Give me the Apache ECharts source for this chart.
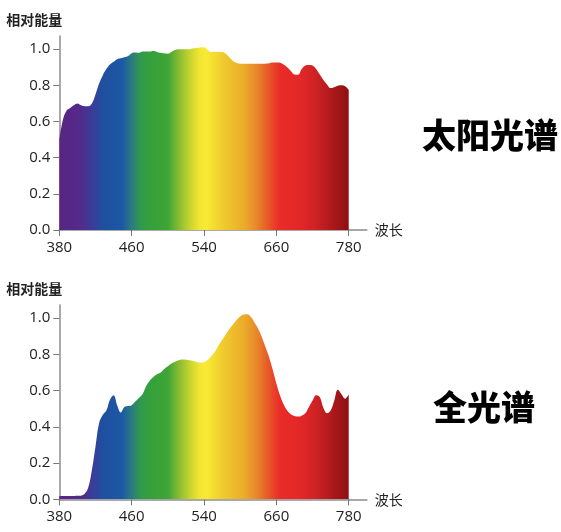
<!DOCTYPE html>
<html>
<head>
<meta charset="utf-8">
<script src="https://cdn.jsdelivr.net/npm/echarts@6/dist/echarts.min.js"></script>
<style>
html,body{margin:0;padding:0;background:#ffffff;}
#chart{width:561px;height:532px;}
</style>
</head>
<body>
<div id="chart"></div>
<script>
// Wavelength categories (nm): 4 nm steps up to 540, 6 nm steps after (axis is evenly spaced per tick label)
const wavelengths = [
  380,384,388,392,396,400,404,408,412,416,420,424,428,432,436,440,444,448,452,456,
  460,464,468,472,476,480,484,488,492,496,500,504,508,512,516,520,524,528,532,536,540,
  546,552,558,564,570,576,582,588,594,600,606,612,618,624,630,636,642,648,654,660,
  666,672,678,684,690,696,702,708,714,720,726,732,738,744,750,756,762,768,774,780
];
// empty axis run-out beyond 780 nm
const axisRunout = [786,792,798,804,810];
const tickLabels = ['380','460','540','660','780'];
const yTicks = [0,0.2,0.4,0.6,0.8,1.0];

// 太阳光谱 relative energy
const sunSpectrum = [
  0.50,0.61,0.66,0.675,0.69,0.70,0.69,0.685,0.685,0.70,
  0.75,0.81,0.855,0.89,0.915,0.93,0.945,0.95,0.955,0.962,
  0.978,0.982,0.98,0.987,0.987,0.987,0.99,0.985,0.98,0.977,
  0.975,0.985,0.995,1.0,1.0,1.0,1.0,1.005,1.007,1.01,1.011,
  0.995,0.985,0.985,0.985,0.985,0.975,0.955,0.935,0.925,0.92,
  0.92,0.92,0.92,0.92,0.92,0.92,0.92,0.922,0.926,0.926,
  0.925,0.915,0.90,0.88,0.86,0.858,0.89,0.91,0.913,0.91,
  0.89,0.86,0.83,0.805,0.785,0.79,0.798,0.80,0.795,0.775
];
// 全光谱 relative energy
const fullSpectrum = [
  0.018,0.018,0.018,0.018,0.018,0.019,0.02,0.03,0.065,0.16,
  0.29,0.42,0.465,0.49,0.55,0.575,0.52,0.48,0.51,0.515,
  0.52,0.54,0.56,0.58,0.625,0.655,0.675,0.69,0.70,0.72,
  0.735,0.75,0.76,0.768,0.772,0.771,0.768,0.764,0.758,0.755,0.757,
  0.77,0.79,0.815,0.85,0.88,0.91,0.94,0.965,0.99,1.01,
  1.02,1.022,1.005,0.975,0.94,0.895,0.84,0.785,0.715,0.64,
  0.575,0.525,0.49,0.47,0.46,0.457,0.462,0.475,0.51,0.545,
  0.575,0.565,0.505,0.475,0.49,0.545,0.605,0.58,0.555,0.58
];

const categories = wavelengths.concat(axisRunout).map(String);
const spectrumStops = [
  [0.000,'#5a2482'],[0.072,'#532a8a'],[0.113,'#3b3c98'],[0.148,'#1f4f9f'],
  [0.217,'#1c58a6'],[0.248,'#2a7a82'],[0.279,'#2f9850'],[0.306,'#34a03c'],
  [0.375,'#3ea536'],[0.417,'#8fbe32'],[0.452,'#c8d530'],[0.486,'#f3e633'],
  [0.507,'#f8ea34'],[0.573,'#efc82d'],[0.641,'#ebab2a'],[0.686,'#e7832a'],
  [0.720,'#e75a27'],[0.762,'#e92c28'],[0.832,'#e32727'],[0.884,'#d02224'],
  [0.936,'#b11a1c'],[1.000,'#8e0f11']
];
const gradient = () => new echarts.graphic.LinearGradient(0,0,1,0,
  spectrumStops.map(s => ({offset:s[0], color:s[1]})));

const font = "'Open Sans','Noto Sans CJK SC',sans-serif";
const cjk = "'Noto Sans CJK SC','Open Sans',sans-serif";
const showTick = (idx, val) => tickLabels.includes(val);

function xAxisFor(gi){
  return {
    type:'category', gridIndex:gi, data:categories, boundaryGap:false,
    name:'波长', nameLocation:'end', nameGap:8,
    nameTextStyle:{fontFamily:cjk, fontSize:14, color:'#222', verticalAlign:'middle'},
    axisLine:{show:true, lineStyle:{color:'#8c8c8c', width:1.5}},
    axisTick:{show:true, interval:showTick, length:6, lineStyle:{color:'#777'}},
    axisLabel:{interval:showTick, margin:10, fontFamily:font, fontSize:15, color:'#222'},
    splitLine:{show:false}
  };
}
function yAxisFor(gi){
  return {
    type:'value', gridIndex:gi, min:0, max:1.073,
    name:'相对能量', nameLocation:'end', nameGap:9,
    nameTextStyle:{fontFamily:cjk, fontSize:14, fontWeight:'bold', color:'#222', align:'right', padding:[0,-3,0,0]},
    axisLine:{show:true, lineStyle:{color:'#8c8c8c', width:1.5}},
    axisTick:{show:true, length:6, customValues:yTicks, lineStyle:{color:'#777'}},
    axisLabel:{customValues:yTicks, margin:9, fontFamily:font, fontSize:15, color:'#222',
      formatter:v => v.toFixed(1)},
    splitLine:{show:false}
  };
}
function seriesFor(gi, data){
  return {
    type:'line', xAxisIndex:gi, yAxisIndex:gi, data:data, smooth:0.4,
    symbol:'none', lineStyle:{width:0}, areaStyle:{color:gradient(), opacity:1},
    silent:true
  };
}

const chart = echarts.init(document.getElementById('chart'), null, {renderer:'canvas'});
chart.setOption({
  backgroundColor:'#ffffff',
  animation:false,
  title:[
    {text:'太阳光谱', left:417, top:112, textStyle:{fontFamily:cjk, fontSize:34, fontWeight:900, color:'#000', lineHeight:36}},
    {text:'全光谱', left:428, top:384, textStyle:{fontFamily:cjk, fontSize:34, fontWeight:900, color:'#000', lineHeight:36}}
  ],
  grid:[
    {left:59.3, top:36, right:194.2, height:194},
    {left:59.3, top:305, right:194.2, height:194.3}
  ],
  xAxis:[xAxisFor(0), xAxisFor(1)],
  yAxis:[yAxisFor(0), yAxisFor(1)],
  series:[seriesFor(0, sunSpectrum), seriesFor(1, fullSpectrum)]
});
</script>
</body>
</html>
